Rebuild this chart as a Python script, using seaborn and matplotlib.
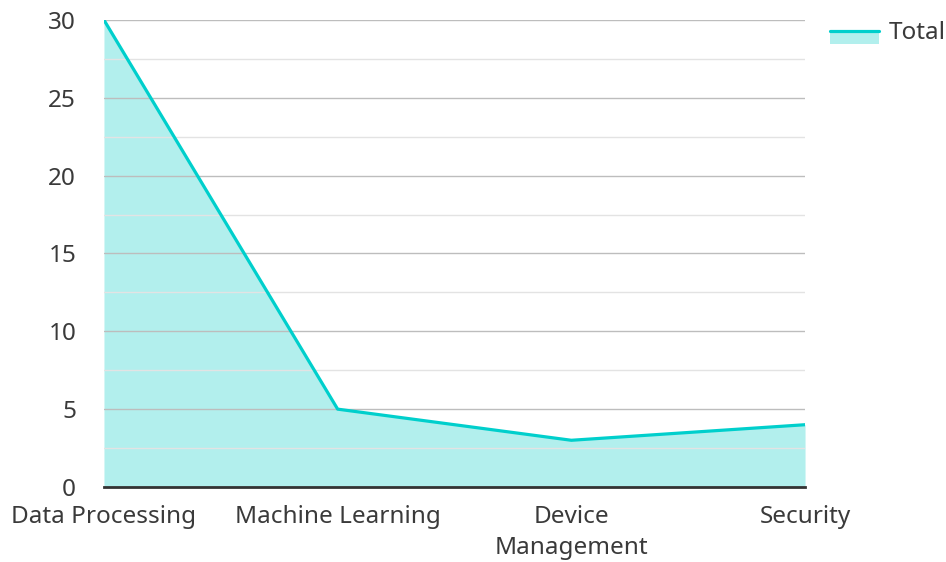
import matplotlib.pyplot as plt
import matplotlib.patches as mpatches
import matplotlib.lines as mlines
from matplotlib.legend_handler import HandlerBase
import pandas as pd
import seaborn as sns

categories = ['Data Processing', 'Machine Learning', 'Device\nManagement', 'Security']
totals = [30, 5, 3, 4]

df = pd.DataFrame({'category': categories, 'total': totals})
df['pos'] = range(len(df))

sns.set_style('white')
plt.rcParams['font.family'] = ['Noto Sans', 'DejaVu Sans']

line_color = '#00CFCC'
fill_color = '#B2EFED'
text_color = '#3a3a3a'
fsize = 17.5

fig = plt.figure(figsize=(9.46, 5.62), dpi=100)
ax = fig.add_axes([0.1099, 0.1335, 0.7411, 0.8309])

ax.fill_between(df['pos'], df['total'], 0, color=fill_color, linewidth=0, zorder=1)
sns.lineplot(x='pos', y='total', data=df, color=line_color, linewidth=2.3, ax=ax, zorder=3)

ax.set_xlim(0, len(df) - 1)
ax.set_ylim(0, 30)
ax.set_yticks([0, 5, 10, 15, 20, 25, 30])
ax.set_yticks([2.5, 7.5, 12.5, 17.5, 22.5, 27.5], minor=True)
ax.grid(axis='y', which='major', color='#bdbdbd', linewidth=1, zorder=2)
ax.grid(axis='y', which='minor', color='#e3e3e3', linewidth=1, zorder=2)
ax.set_axisbelow(False)
ax.set_xticks(df['pos'])
ax.set_xticklabels(df['category'], linespacing=1.4)
ax.tick_params(axis='both', which='both', length=0, labelsize=fsize, colors=text_color)
ax.tick_params(axis='y', pad=20)
ax.tick_params(axis='x', pad=13)
ax.set_xlabel('')
ax.set_ylabel('')

for s in ['top', 'right', 'left']:
    ax.spines[s].set_visible(False)
ax.spines['bottom'].set_color('#333333')
ax.spines['bottom'].set_linewidth(2)
ax.spines['bottom'].set_zorder(4)


class AreaHandler(HandlerBase):
    def create_artists(self, legend, orig, xd, yd, w, h, fs, trans):
        mid = yd + h * 0.45
        rect = mpatches.Rectangle((xd, mid - h * 0.75), w, h * 0.75, facecolor=fill_color,
                                  edgecolor='none', transform=trans)
        ln = mlines.Line2D([xd, xd + w], [mid, mid], color=line_color,
                           linewidth=2.3, transform=trans)
        return [rect, ln]


ax.legend([object()], ['Total'], handler_map={object: AreaHandler()},
          loc='upper left', bbox_to_anchor=(830 / 946, 1 - 21 / 562),
          bbox_transform=fig.transFigure, frameon=False, borderpad=0, borderaxespad=0,
          fontsize=fsize, handlelength=2.0, handletextpad=0.4, labelcolor=text_color)

fig.savefig('out.png', dpi=100)
